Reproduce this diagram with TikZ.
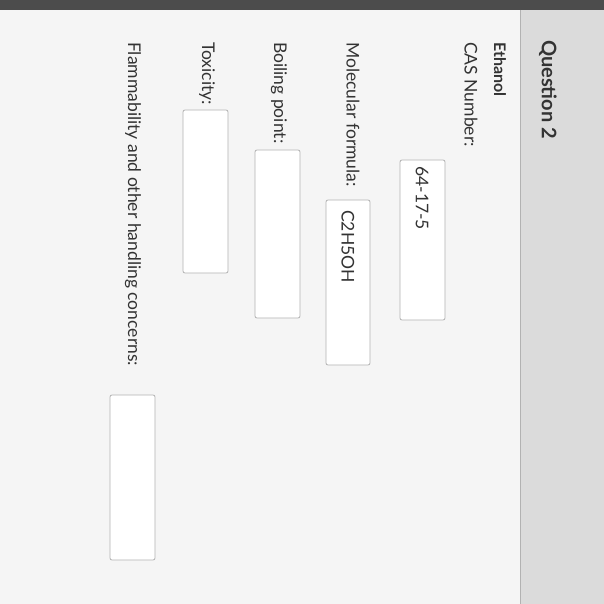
\documentclass[tikz,border=0pt]{standalone}
\usepackage{fontspec}
\setmainfont{Lato}
\begin{document}
\begin{tikzpicture}[x=1pt,y=-1pt,
  lbl/.style={rotate=-90,anchor=west,inner sep=0pt,font=\fontsize{17.5}{20}\selectfont,text=black!80},
  field/.style={draw=black!30,rounded corners=2pt,fill=white,line width=0.8pt}]
\useasboundingbox (0,0) rectangle (604,604);
\fill[black!12] (0,0) rectangle (604,604);
\fill[black!4] (0,10) rectangle (520,604);
\fill[black!14] (520,10) rectangle (604,604);
\fill[black!70] (0,0) rectangle (604,10);
\draw[black!30,line width=1pt] (520,10) -- (520,604);
\node[lbl,font=\bfseries\fontsize{20}{23}\selectfont] (q) at (548,40) {Question 2};
\node[lbl,font=\bfseries\fontsize{16}{18}\selectfont] (eth) at (500,42) {Ethanol};
\node[lbl] (cas) at (471,42) {CAS Number:};
\draw[field] (400,160) rectangle (445,320);
\node[lbl] (casv) at (422,166) {64-17-5};
\node[lbl] (mf) at (353,42) {Molecular formula:};
\draw[field] (326,200) rectangle (370,365);
\node[lbl] (mfv) at (348,210) {C2H5OH};
\node[lbl] (bp) at (279,42) {Boiling point:};
\draw[field] (255,150) rectangle (300,318);
\node[lbl] (tx) at (207,42) {Toxicity:};
\draw[field] (183,110) rectangle (228,273);
\node[lbl] (fl) at (133,42) {Flammability and other handling concerns:};
\draw[field] (110,395) rectangle (155,560);
\end{tikzpicture}
\end{document}
